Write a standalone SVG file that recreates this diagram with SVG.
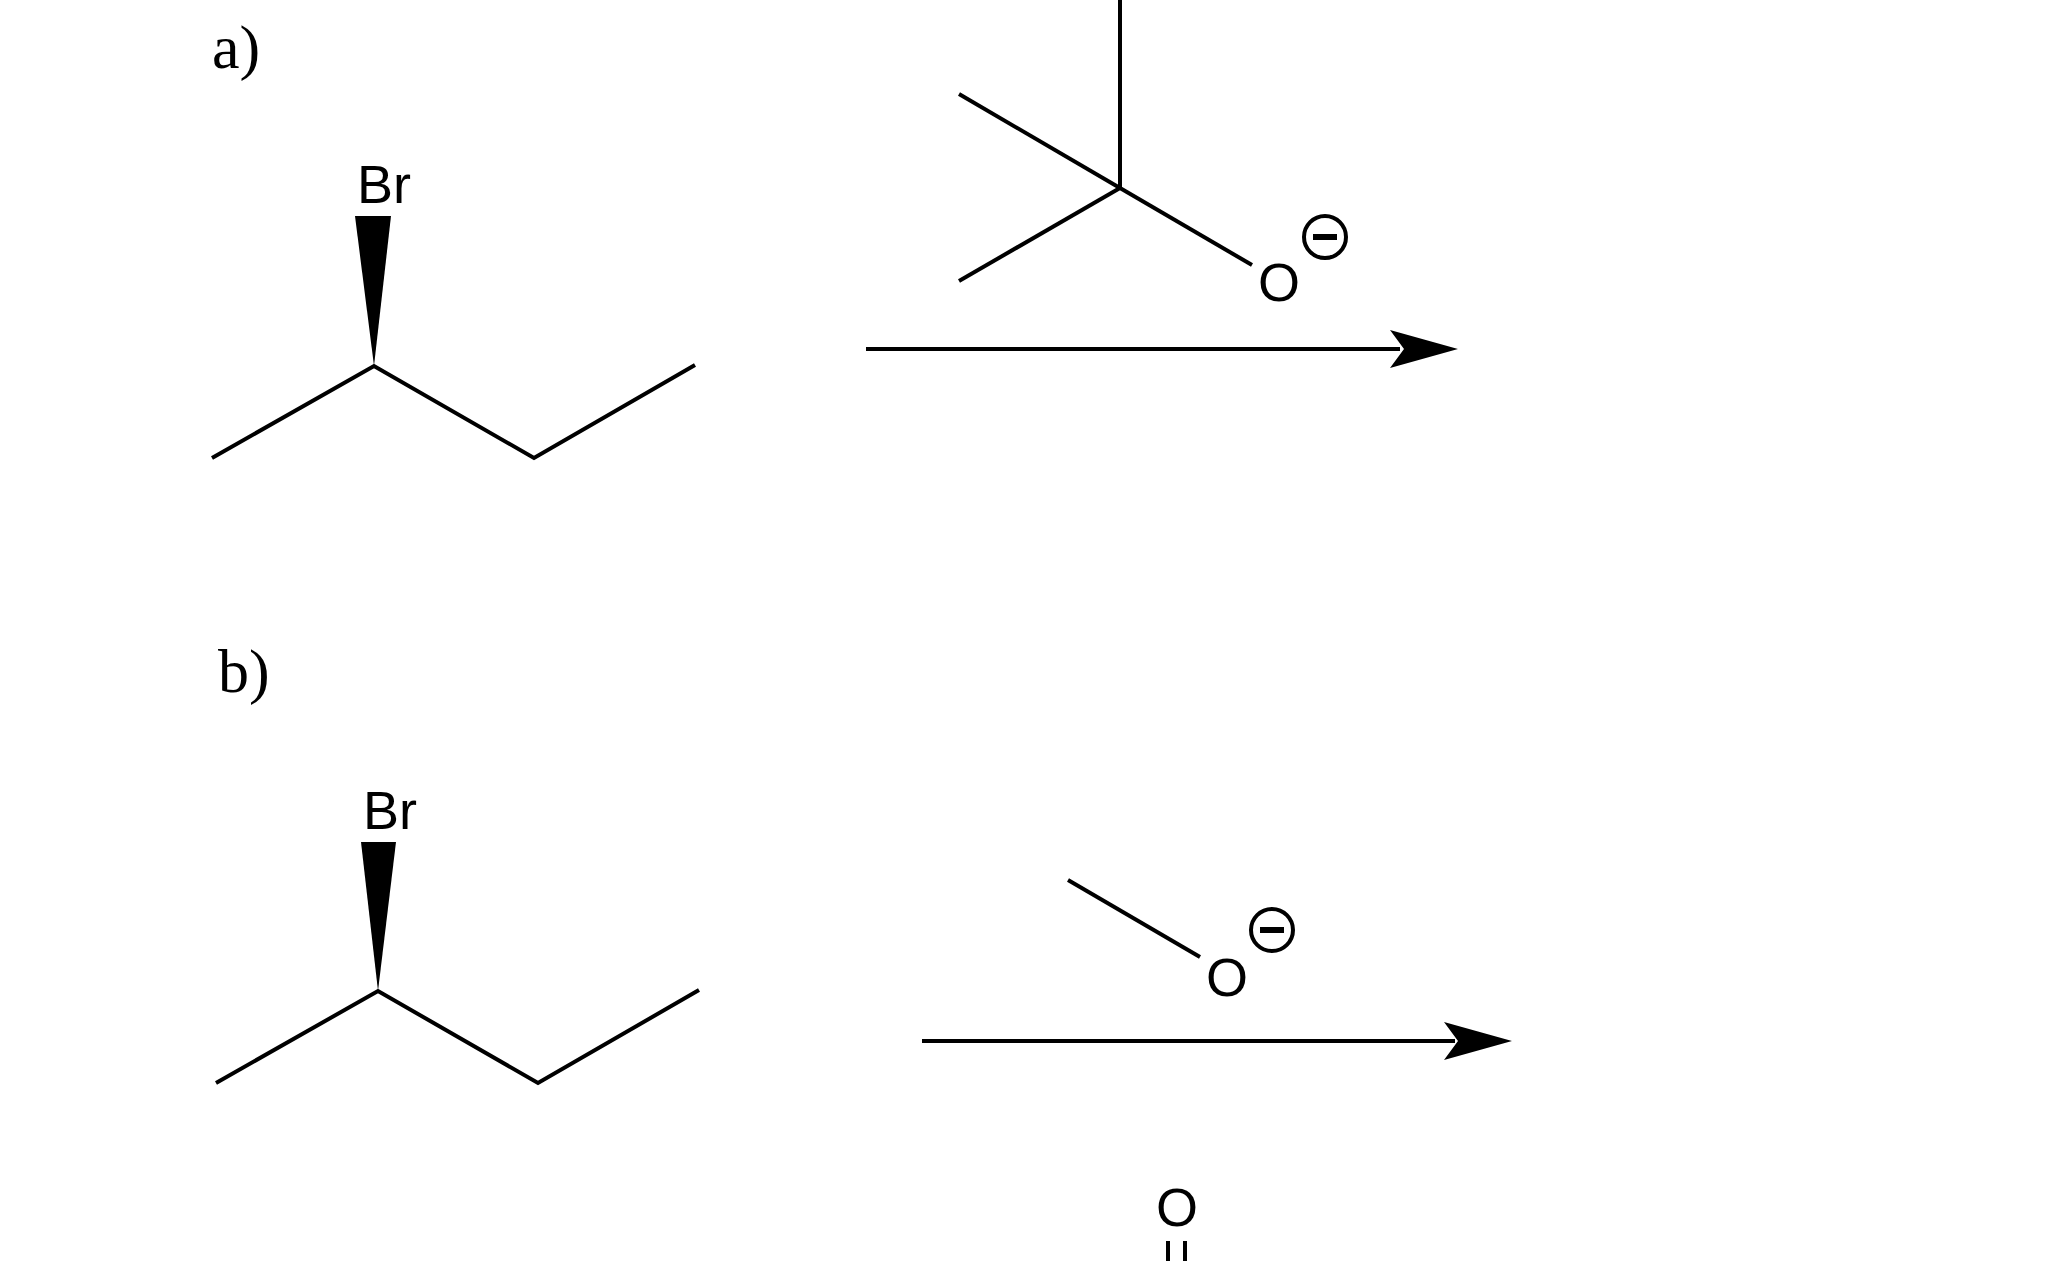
<svg xmlns="http://www.w3.org/2000/svg" width="2046" height="1261" viewBox="0 0 2046 1261">
<style>
.b{fill:none;stroke:#000;stroke-width:4;stroke-linecap:butt}
.at{font-family:"Liberation Sans",Arial,sans-serif;font-size:54px;fill:#000;text-anchor:middle}
.lb{font-family:"Liberation Serif","Times New Roman",serif;font-size:62px;fill:#000}
</style>
<defs>
<g id="minus"><circle r="21" fill="none" stroke="#000" stroke-width="4"/><line x1="-12" y1="0" x2="12" y2="0" stroke="#000" stroke-width="6"/></g>
</defs>
<rect width="2046" height="1261" fill="#fff"/>
<text class="lb" x="212" y="68">a)</text>
<text class="lb" x="218" y="692">b)</text>
<g id="substrate-a">
<polyline class="b" points="212,458 374,366 534,458 695,365"/>
<polygon points="374,366 355,216 391,216" fill="#000"/>
<text class="at" x="384" y="203">Br</text>
</g>
<g id="tBuO">
<line class="b" x1="1120" y1="188" x2="1120" y2="0"/>
<line class="b" x1="1120" y1="188" x2="959" y2="94"/>
<line class="b" x1="1120" y1="188" x2="959" y2="281"/>
<line class="b" x1="1120" y1="188" x2="1252" y2="265"/>
<text class="at" x="1279" y="301">O</text>
<use href="#minus" x="1325" y="237"/>
</g>
<g id="substrate-b">
<polyline class="b" points="216,1083 378,991 538,1083 699,990"/>
<polygon points="378,991 361,842 396,842" fill="#000"/>
<text class="at" x="390" y="829">Br</text>
</g>
<g id="MeO">
<line class="b" x1="1068" y1="880" x2="1200" y2="957"/>
<text class="at" x="1227" y="996">O</text>
<use href="#minus" x="1272" y="930"/>
</g>
<g id="carbonyl">
<text class="at" x="1177" y="1226">O</text>
<line class="b" x1="1168" y1="1241" x2="1168" y2="1261"/>
<line class="b" x1="1185" y1="1241" x2="1185" y2="1261"/>
</g>
<g id="connectors">
<line class="b" x1="866" y1="349" x2="1400" y2="349"/>
<polygon points="1458,349 1390,330 1404,349 1390,368" fill="#000"/>
<line class="b" x1="922" y1="1041" x2="1455" y2="1041"/>
<polygon points="1512,1041 1444,1022 1458,1041 1444,1060" fill="#000"/>
</g>
</svg>
